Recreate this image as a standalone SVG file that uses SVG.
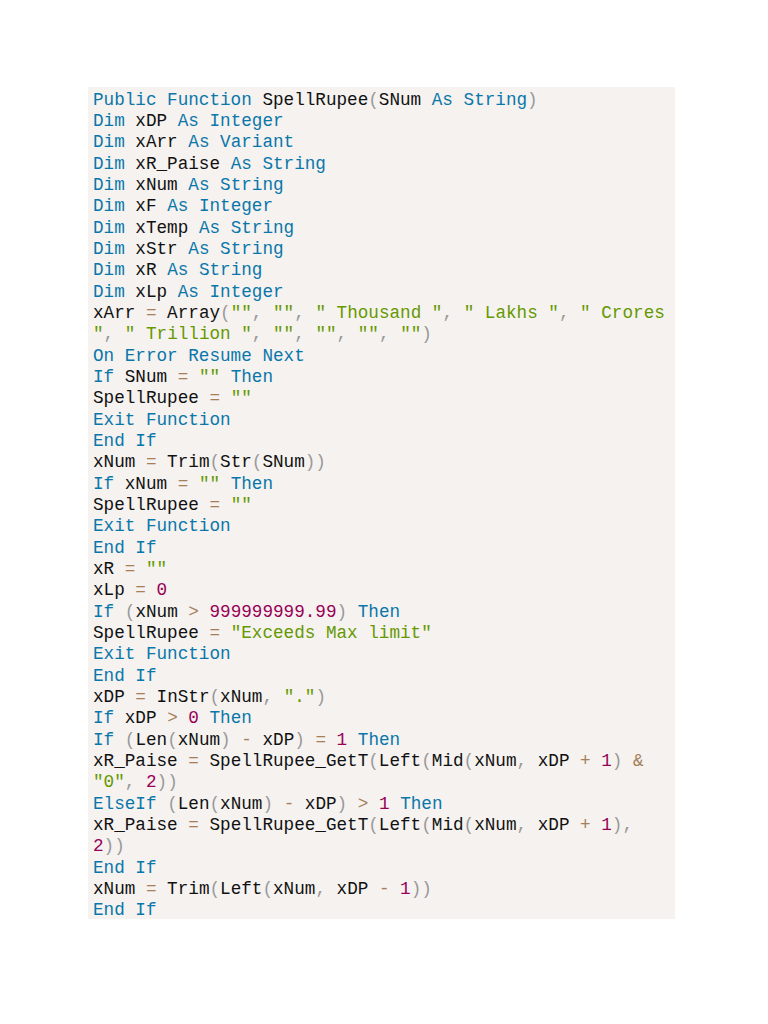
<svg xmlns="http://www.w3.org/2000/svg" width="768" height="1024" viewBox="0 0 768 1024" xml:space="preserve">
<style>
text{font-family:"Liberation Mono","DejaVu Sans Mono",monospace;font-size:17.65px;fill:#111;white-space:pre}
.k{fill:#0a77aa}.s{fill:#669900}.n{fill:#990055}.o{fill:#a67f59}.p{fill:#999}
</style>
<rect x="0" y="0" width="768" height="1024" fill="#fff"/>
<rect id="codebg" x="88" y="87" width="587" height="832" fill="#f5f2f0"/>
<g id="code">
<text x="93" y="104.5"><tspan class="k">Public Function</tspan> SpellRupee<tspan class="p">(</tspan>SNum <tspan class="k">As String</tspan><tspan class="p">)</tspan></text>
<text x="93" y="125.8"><tspan class="k">Dim</tspan> xDP <tspan class="k">As Integer</tspan></text>
<text x="93" y="147.2"><tspan class="k">Dim</tspan> xArr <tspan class="k">As Variant</tspan></text>
<text x="93" y="168.5"><tspan class="k">Dim</tspan> xR_Paise <tspan class="k">As String</tspan></text>
<text x="93" y="189.9"><tspan class="k">Dim</tspan> xNum <tspan class="k">As String</tspan></text>
<text x="93" y="211.2"><tspan class="k">Dim</tspan> xF <tspan class="k">As Integer</tspan></text>
<text x="93" y="232.5"><tspan class="k">Dim</tspan> xTemp <tspan class="k">As String</tspan></text>
<text x="93" y="253.9"><tspan class="k">Dim</tspan> xStr <tspan class="k">As String</tspan></text>
<text x="93" y="275.2"><tspan class="k">Dim</tspan> xR <tspan class="k">As String</tspan></text>
<text x="93" y="296.6"><tspan class="k">Dim</tspan> xLp <tspan class="k">As Integer</tspan></text>
<text x="93" y="317.9">xArr <tspan class="o">=</tspan> Array<tspan class="p">(</tspan><tspan class="s">""</tspan><tspan class="p">,</tspan> <tspan class="s">""</tspan><tspan class="p">,</tspan> <tspan class="s">" Thousand "</tspan><tspan class="p">,</tspan> <tspan class="s">" Lakhs "</tspan><tspan class="p">,</tspan> <tspan class="s">" Crores</tspan></text>
<text x="93" y="339.2"><tspan class="s">"</tspan><tspan class="p">,</tspan> <tspan class="s">" Trillion "</tspan><tspan class="p">,</tspan> <tspan class="s">""</tspan><tspan class="p">,</tspan> <tspan class="s">""</tspan><tspan class="p">,</tspan> <tspan class="s">""</tspan><tspan class="p">,</tspan> <tspan class="s">""</tspan><tspan class="p">)</tspan></text>
<text x="93" y="360.6"><tspan class="k">On Error Resume Next</tspan></text>
<text x="93" y="381.9"><tspan class="k">If</tspan> SNum <tspan class="o">=</tspan> <tspan class="s">""</tspan> <tspan class="k">Then</tspan></text>
<text x="93" y="403.3">SpellRupee <tspan class="o">=</tspan> <tspan class="s">""</tspan></text>
<text x="93" y="424.6"><tspan class="k">Exit Function</tspan></text>
<text x="93" y="445.9"><tspan class="k">End If</tspan></text>
<text x="93" y="467.3">xNum <tspan class="o">=</tspan> Trim<tspan class="p">(</tspan>Str<tspan class="p">(</tspan>SNum<tspan class="p">))</tspan></text>
<text x="93" y="488.6"><tspan class="k">If</tspan> xNum <tspan class="o">=</tspan> <tspan class="s">""</tspan> <tspan class="k">Then</tspan></text>
<text x="93" y="510.0">SpellRupee <tspan class="o">=</tspan> <tspan class="s">""</tspan></text>
<text x="93" y="531.3"><tspan class="k">Exit Function</tspan></text>
<text x="93" y="552.6"><tspan class="k">End If</tspan></text>
<text x="93" y="574.0">xR <tspan class="o">=</tspan> <tspan class="s">""</tspan></text>
<text x="93" y="595.3">xLp <tspan class="o">=</tspan> <tspan class="n">0</tspan></text>
<text x="93" y="616.7"><tspan class="k">If</tspan> <tspan class="p">(</tspan>xNum <tspan class="o">&gt;</tspan> <tspan class="n">999999999.99</tspan><tspan class="p">)</tspan> <tspan class="k">Then</tspan></text>
<text x="93" y="638.0">SpellRupee <tspan class="o">=</tspan> <tspan class="s">"Exceeds Max limit"</tspan></text>
<text x="93" y="659.3"><tspan class="k">Exit Function</tspan></text>
<text x="93" y="680.7"><tspan class="k">End If</tspan></text>
<text x="93" y="702.0">xDP <tspan class="o">=</tspan> InStr<tspan class="p">(</tspan>xNum<tspan class="p">,</tspan> <tspan class="s">"."</tspan><tspan class="p">)</tspan></text>
<text x="93" y="723.4"><tspan class="k">If</tspan> xDP <tspan class="o">&gt;</tspan> <tspan class="n">0</tspan> <tspan class="k">Then</tspan></text>
<text x="93" y="744.7"><tspan class="k">If</tspan> <tspan class="p">(</tspan>Len<tspan class="p">(</tspan>xNum<tspan class="p">)</tspan> <tspan class="o">-</tspan> xDP<tspan class="p">)</tspan> <tspan class="o">=</tspan> <tspan class="n">1</tspan> <tspan class="k">Then</tspan></text>
<text x="93" y="766.0">xR_Paise <tspan class="o">=</tspan> SpellRupee_GetT<tspan class="p">(</tspan>Left<tspan class="p">(</tspan>Mid<tspan class="p">(</tspan>xNum<tspan class="p">,</tspan> xDP <tspan class="o">+</tspan> <tspan class="n">1</tspan><tspan class="p">)</tspan> <tspan class="o">&amp;</tspan></text>
<text x="93" y="787.4"><tspan class="s">"0"</tspan><tspan class="p">,</tspan> <tspan class="n">2</tspan><tspan class="p">))</tspan></text>
<text x="93" y="808.7"><tspan class="k">ElseIf</tspan> <tspan class="p">(</tspan>Len<tspan class="p">(</tspan>xNum<tspan class="p">)</tspan> <tspan class="o">-</tspan> xDP<tspan class="p">)</tspan> <tspan class="o">&gt;</tspan> <tspan class="n">1</tspan> <tspan class="k">Then</tspan></text>
<text x="93" y="830.1">xR_Paise <tspan class="o">=</tspan> SpellRupee_GetT<tspan class="p">(</tspan>Left<tspan class="p">(</tspan>Mid<tspan class="p">(</tspan>xNum<tspan class="p">,</tspan> xDP <tspan class="o">+</tspan> <tspan class="n">1</tspan><tspan class="p">),</tspan></text>
<text x="93" y="851.4"><tspan class="n">2</tspan><tspan class="p">))</tspan></text>
<text x="93" y="872.7"><tspan class="k">End If</tspan></text>
<text x="93" y="894.1">xNum <tspan class="o">=</tspan> Trim<tspan class="p">(</tspan>Left<tspan class="p">(</tspan>xNum<tspan class="p">,</tspan> xDP <tspan class="o">-</tspan> <tspan class="n">1</tspan><tspan class="p">))</tspan></text>
<text x="93" y="915.4"><tspan class="k">End If</tspan></text>
</g>
</svg>
